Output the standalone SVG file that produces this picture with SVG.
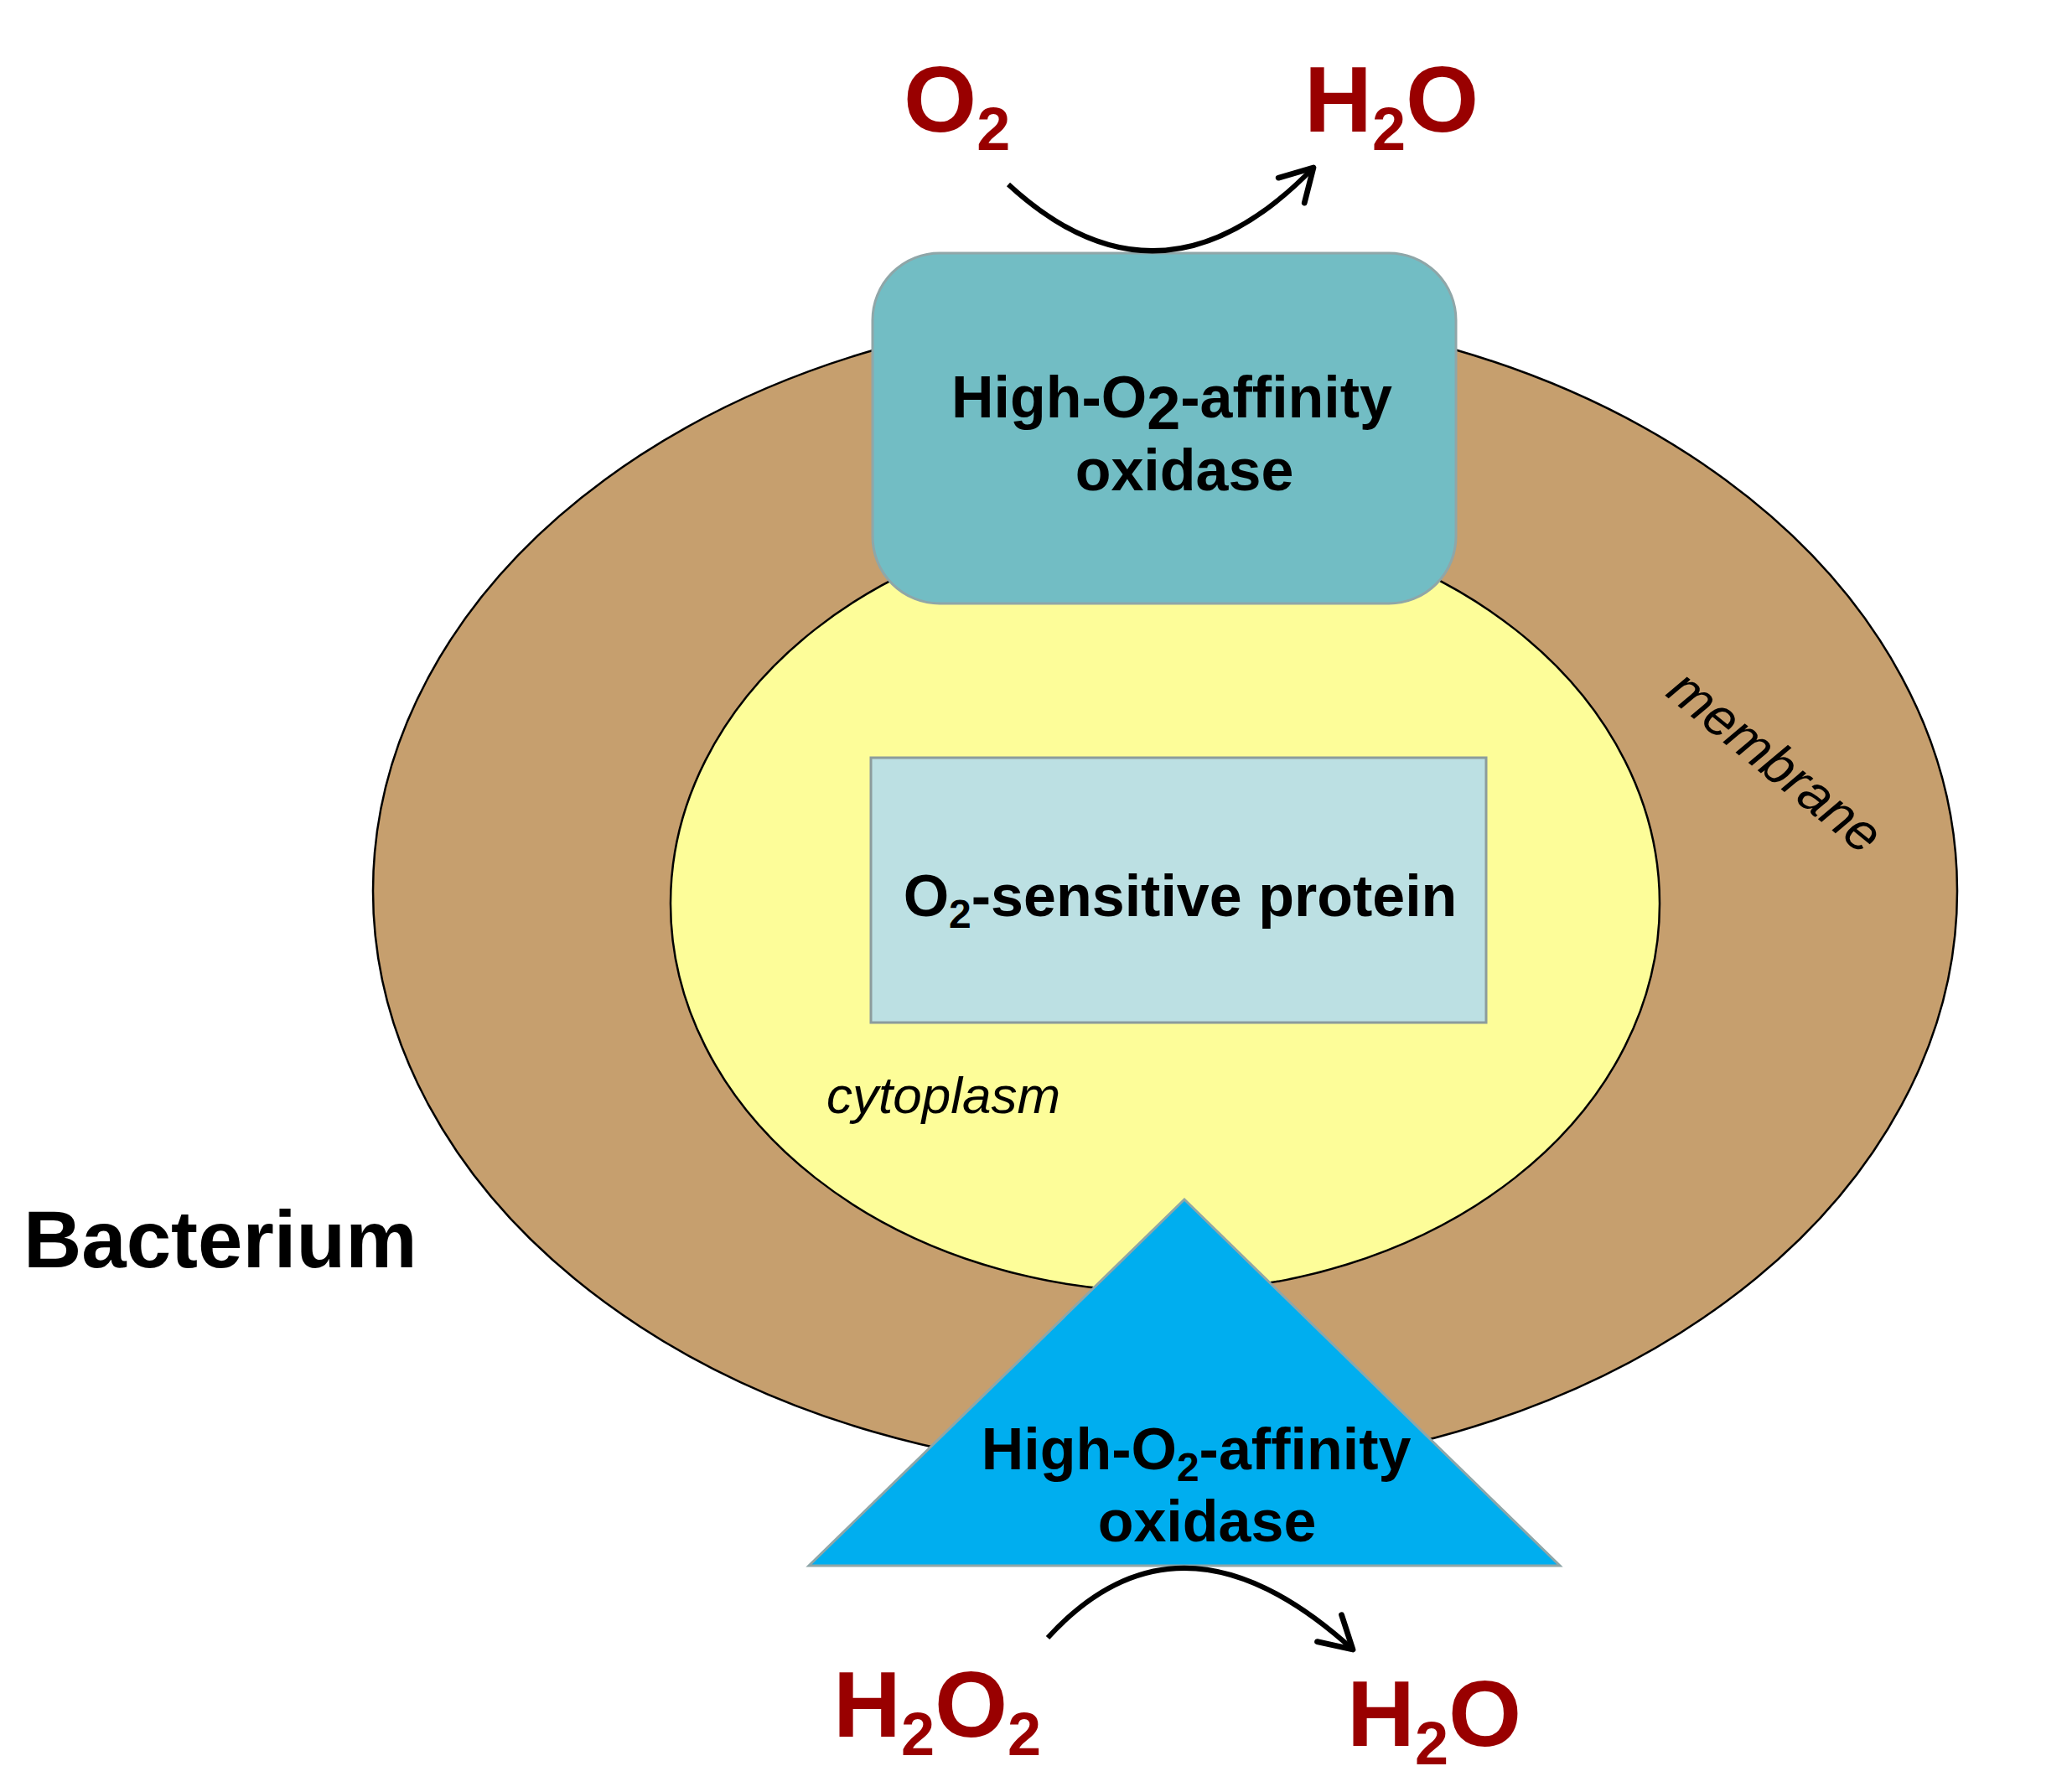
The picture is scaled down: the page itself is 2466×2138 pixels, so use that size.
<svg xmlns="http://www.w3.org/2000/svg" width="2466" height="2138" viewBox="0 0 2466 2138">
<style>
.lbl{font-family:"Liberation Sans",Arial,sans-serif;font-weight:bold;fill:#000;font-size:70px;text-anchor:middle}
.chem{font-family:"Liberation Sans",Arial,sans-serif;font-weight:bold;fill:#990000;font-size:112px}
.sub{font-size:72px}
.conn{fill:none;stroke:#000;stroke-width:6;marker-end:url(#ah)}
</style>
<defs>
<marker id="ah" viewBox="0 0 20 20" refX="16" refY="10" markerWidth="9" markerHeight="9" orient="auto" markerUnits="strokeWidth">
<path d="M2,2 L16,10 L2,18" fill="none" stroke="#000" stroke-width="2.5" stroke-linecap="round" stroke-linejoin="round"/>
</marker>
</defs>
<rect width="2466" height="2138" fill="#fff"/>
<g id="membrane">
<ellipse cx="1390" cy="1063" rx="945" ry="694" fill="#C69F6E" stroke="#000" stroke-width="2.5"/>
<text x="0" y="0" transform="translate(2115 912) rotate(39)" font-family="Liberation Sans,Arial,sans-serif" font-style="italic" font-size="64" text-anchor="middle" dominant-baseline="middle">membrane</text>
</g>
<g id="cytoplasm">
<ellipse cx="1390" cy="1078" rx="590" ry="463" fill="#FDFD99" stroke="#000" stroke-width="2.5"/>
<text x="986" y="1328" font-family="Liberation Sans,Arial,sans-serif" font-style="italic" font-size="62">cytoplasm</text>
</g>
<g id="oxidase-top">
<rect x="1041" y="302" width="696" height="418" rx="80" fill="#72BDC4" stroke="#8FA6A8" stroke-width="3"/>
<text class="lbl" x="1398" y="498">High-O<tspan class="sub" font-size="48" dy="14">2</tspan><tspan dy="-14">-affinity</tspan></text>
<text class="lbl" x="1413" y="585">oxidase</text>
</g>
<g id="protein">
<rect x="1039" y="904" width="734" height="316" fill="#BCE0E3" stroke="#8C9C9C" stroke-width="3"/>
<text class="lbl" x="1408" y="1093">O<tspan font-size="48" dy="14">2</tspan><tspan dy="-14">-sensitive protein</tspan></text>
</g>
<g id="oxidase-bottom">
<polygon points="1413,1431 965,1868 1861,1868" fill="#00AEEF" stroke="#8FA6A8" stroke-width="3"/>
<text class="lbl" x="1427" y="1753">High-O<tspan font-size="48" dy="14">2</tspan><tspan dy="-14">-affinity</tspan></text>
<text class="lbl" x="1440" y="1839">oxidase</text>
</g>
<g id="bacterium">
<text x="28" y="1512" font-family="Liberation Sans,Arial,sans-serif" font-weight="bold" font-size="96">Bacterium</text>
</g>
<g id="o2-top"><text class="chem" x="1078" y="157">O<tspan class="sub" dy="22">2</tspan></text></g>
<g id="h2o-top"><text class="chem" x="1556" y="157">H<tspan class="sub" dy="22">2</tspan><tspan dy="-22">O</tspan></text></g>
<g id="h2o2-bottom"><text class="chem" x="994" y="2072">H<tspan class="sub" dy="22">2</tspan><tspan dy="-22">O</tspan><tspan class="sub" dy="22">2</tspan></text></g>
<g id="h2o-bottom"><text class="chem" x="1607" y="2083">H<tspan class="sub" dy="22">2</tspan><tspan dy="-22">O</tspan></text></g>
<g id="connectors">
<path class="conn" d="M1203,220 Q1385,388 1567,200"/>
<path class="conn" d="M1250,1954 Q1408,1781 1614,1968"/>
</g>
</svg>
